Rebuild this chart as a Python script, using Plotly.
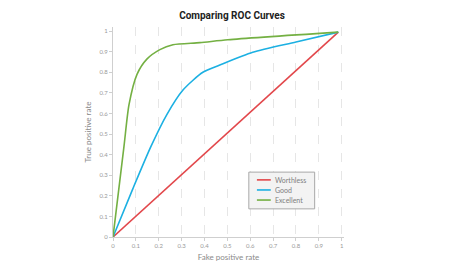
import plotly.graph_objects as go

series_names = ["Worthless", "Good", "Excellent"]
series_colors = ["#e2474b", "#1cb0e2", "#74b043"]

worthless_x = [0.0, 0.985]
worthless_y = [0.0, 0.995]

good_x = [0.0, 0.087, 0.166, 0.236, 0.306, 0.393, 0.467, 0.611, 0.80, 0.985]
good_y = [0.0, 0.235, 0.44, 0.596, 0.714, 0.80, 0.835, 0.897, 0.947, 0.995]

excellent_x = [0.0, 0.048, 0.07, 0.105, 0.148, 0.205, 0.262, 0.38, 0.502, 0.985]
excellent_y = [0.0, 0.44, 0.643, 0.79, 0.864, 0.91, 0.934, 0.944, 0.958, 0.995]

tick_vals = [0, 0.1, 0.2, 0.3, 0.4, 0.5, 0.6, 0.7, 0.8, 0.9, 1]
tick_text = ["0", "0.1", "0.2", "0.3", "0.4", "0.5", "0.6", "0.7", "0.8", "0.9", "1"]

xs = [worthless_x, good_x, excellent_x]
ys = [worthless_y, good_y, excellent_y]

fig = go.Figure()
for name, color, x, y in zip(series_names, series_colors, xs, ys):
    fig.add_trace(go.Scatter(
        x=x, y=y, name=name, mode="lines", showlegend=False,
        line=dict(color=color, width=1.6, shape="spline", smoothing=0.7),
    ))

# Compact legend box (paper coordinates of the plot area)
leg_x0, leg_x1, leg_y0, leg_y1 = 0.588, 0.873, 0.134, 0.309
line_x0, line_x1, text_x = 0.623, 0.683, 0.692
entry_y = [0.272, 0.224, 0.176]

shapes = [dict(type="rect", xref="paper", yref="paper",
               x0=leg_x0, x1=leg_x1, y0=leg_y0, y1=leg_y1,
               fillcolor="#f3f3f3", line=dict(color="#a8a8a8", width=1), layer="above")]
annotations = []
for name, color, ey in zip(series_names, series_colors, entry_y):
    shapes.append(dict(type="line", xref="paper", yref="paper",
                       x0=line_x0, x1=line_x1, y0=ey, y1=ey,
                       line=dict(color=color, width=1.6), layer="above"))
    annotations.append(dict(xref="paper", yref="paper", x=text_x, y=ey,
                            xanchor="left", yanchor="middle", showarrow=False,
                            text=name, font=dict(family="Lato", size=7, color="#7e7e7e")))

axis_common = dict(
    tickvals=tick_vals, ticktext=tick_text,
    showline=True, linecolor="#cfcfcf", linewidth=1,
    ticks="outside", ticklen=3, tickcolor="#cfcfcf",
    tickfont=dict(family="Lato", size=6, color="#9a9a9a"),
    zeroline=False,
)

fig.update_layout(
    width=474, height=273,
    margin=dict(l=113, r=130, t=27, b=29),
    paper_bgcolor="white", plot_bgcolor="white",
    font=dict(family="Lato"),
    title=dict(text="<b>Comparing ROC Curves</b>", x=232/474, xref="container",
               xanchor="center", y=1 - 15/273, yref="container", yanchor="middle",
               font=dict(family="Roboto", size=10, color="#222222")),
    xaxis=dict(range=[0, 1.01], showgrid=True, gridcolor="#e6e6e6", griddash="dash",
               gridwidth=1,
               title=dict(text="Fake positive rate", standoff=6,
                          font=dict(family="Lato", size=8, color="#8a8a8a")),
               **axis_common),
    yaxis=dict(range=[0, 1.02], showgrid=False,
               title=dict(text="True positive rate", standoff=6,
                          font=dict(family="Lato", size=8, color="#8a8a8a")),
               **axis_common),
    shapes=shapes,
    annotations=annotations,
    showlegend=False,
)

fig.write_html("out.html")
